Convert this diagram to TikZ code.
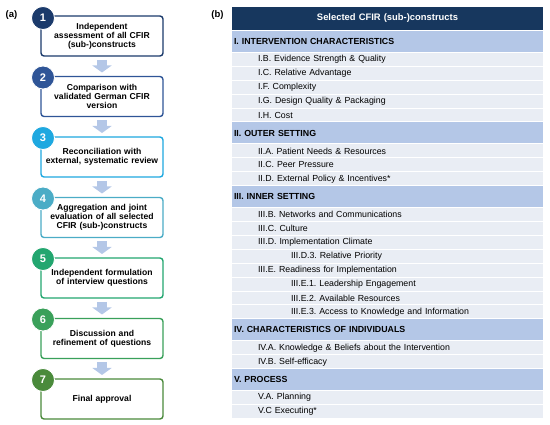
\documentclass[tikz,border=0pt]{standalone}
\usepackage{fontspec}
\setmainfont{Liberation Sans}
\usetikzlibrary{positioning,arrows.meta}

\definecolor{cone}{HTML}{1B3A6B}
\definecolor{ctwo}{HTML}{2F5597}
\definecolor{cthree}{HTML}{1EA8E0}
\definecolor{cfour}{HTML}{4BACC6}
\definecolor{cfive}{HTML}{22A66F}
\definecolor{csix}{HTML}{3AA05A}
\definecolor{cseven}{HTML}{4A8A3B}
\definecolor{arrowblue}{HTML}{B4C7E7}
\definecolor{hdrblue}{HTML}{17375E}
\definecolor{secblue}{HTML}{B4C7E7}
\definecolor{subgrey}{HTML}{E9EDF4}

\tikzset{
  flowbox/.style={draw=#1, line width=1.4pt, rounded corners=3pt, fill=white,
    text width=118pt, inner xsep=2pt, minimum height=40pt, align=center,
    font=\fontsize{8.6}{9.2}\selectfont\bfseries},
  numcirc/.style={circle, fill=#1, draw=white, line width=0.8pt, text=white,
    minimum size=23pt, inner sep=0pt, font=\fontsize{11}{12}\selectfont\bfseries},
  flowarrow/.style={draw=arrowblue, line width=10pt, -{Triangle[width=19pt,length=7pt]},
    shorten <=4pt, shorten >=4pt},
  panlabel/.style={font=\fontsize{9.5}{11}\selectfont\bfseries},
  hdrrow/.style={fill=hdrblue, text=white, text width=311pt, inner xsep=0pt, inner ysep=0pt,
    minimum height=23pt, align=center, font=\fontsize{9.4}{11}\selectfont\bfseries},
  secrow/.style={fill=secblue, text width=307pt, inner xsep=2pt, inner ysep=0pt,
    minimum height=21pt, align=left, font=\fontsize{8.8}{10}\selectfont\bfseries},
  subrow/.style={fill=subgrey, text width=259pt, inner xsep=26pt, inner ysep=0pt,
    minimum height=12.9pt, align=left, font=\fontsize{8.8}{10}\selectfont},
  subsubrow/.style={subrow, text width=193pt, inner xsep=59pt},
}

\begin{document}
\frenchspacing
\begin{tikzpicture}[x=1pt,y=-1pt,node distance=1pt,every node/.style={outer sep=0pt}]
\useasboundingbox (0,0) rectangle (550,425);

% (a) workflow
\node[panlabel] (la) at (11.5,15.5) {(a)};
\node[flowbox=cone] (b1) at (102,36) {Independent\\assessment of all CFIR\\(sub-)constructs};
\node[flowbox=ctwo, below=20.5pt of b1] (b2) {Comparison with\\validated German CFIR\\version};
\node[flowbox=cthree, below=20.5pt of b2] (b3) {Reconciliation with\\external, systematic review};
\node[flowbox=cfour, below=20.5pt of b3] (b4) {Aggregation and joint\\evaluation of all selected\\CFIR (sub-)constructs};
\node[flowbox=cfive, below=20.5pt of b4] (b5) {Independent formulation\\of interview questions};
\node[flowbox=csix, below=20.5pt of b5] (b6) {Discussion and\\refinement of questions};
\node[flowbox=cseven, below=20.5pt of b6] (b7) {Final approval};

\node[numcirc=cone] (n1) at ([xshift=2pt,yshift=-2pt]b1.north west) {1};
\node[numcirc=ctwo] (n2) at ([xshift=2pt,yshift=-1pt]b2.north west) {2};
\node[numcirc=cthree] (n3) at ([xshift=2pt,yshift=-1pt]b3.north west) {3};
\node[numcirc=cfour] (n4) at ([xshift=2pt,yshift=-1pt]b4.north west) {4};
\node[numcirc=cfive] (n5) at ([xshift=2pt,yshift=-1pt]b5.north west) {5};
\node[numcirc=csix] (n6) at ([xshift=2pt,yshift=-1pt]b6.north west) {6};
\node[numcirc=cseven] (n7) at ([xshift=2pt,yshift=-1pt]b7.north west) {7};

\draw[flowarrow] (b1) -- (b2);
\draw[flowarrow] (b2) -- (b3);
\draw[flowarrow] (b3) -- (b4);
\draw[flowarrow] (b4) -- (b5);
\draw[flowarrow] (b5) -- (b6);
\draw[flowarrow] (b6) -- (b7);

% (b) table of constructs
\node[panlabel] (lb) at (217.5,15.5) {(b)};
\node[hdrrow, anchor=north west] (hdr) at (232,7) {Selected CFIR (sub-)constructs};
\node[secrow, below=of hdr] (s1) {I. INTERVENTION CHARACTERISTICS};
\node[subrow, below=of s1] (r1b) {I.B. Evidence Strength \& Quality};
\node[subrow, below=of r1b] (r1c) {I.C. Relative Advantage};
\node[subrow, below=of r1c] (r1f) {I.F. Complexity};
\node[subrow, below=of r1f] (r1g) {I.G. Design Quality \& Packaging};
\node[subrow, below=of r1g] (r1h) {I.H. Cost};
\node[secrow, below=of r1h] (s2) {II. OUTER SETTING};
\node[subrow, below=of s2] (r2a) {II.A. Patient Needs \& Resources};
\node[subrow, below=of r2a] (r2c) {II.C. Peer Pressure};
\node[subrow, below=of r2c] (r2d) {II.D. External Policy \& Incentives*};
\node[secrow, below=of r2d] (s3) {III. INNER SETTING};
\node[subrow, below=of s3] (r3b) {III.B. Networks and Communications};
\node[subrow, below=of r3b] (r3c) {III.C. Culture};
\node[subrow, below=of r3c] (r3d) {III.D. Implementation Climate};
\node[subsubrow, below=of r3d] (r3d3) {III.D.3. Relative Priority};
\node[subrow, below=of r3d3] (r3e) {III.E. Readiness for Implementation};
\node[subsubrow, below=of r3e] (r3e1) {III.E.1. Leadership Engagement};
\node[subsubrow, below=of r3e1] (r3e2) {III.E.2. Available Resources};
\node[subsubrow, below=of r3e2] (r3e3) {III.E.3. Access to Knowledge and Information};
\node[secrow, below=of r3e3] (s4) {IV. CHARACTERISTICS OF INDIVIDUALS};
\node[subrow, below=of s4] (r4a) {IV.A. Knowledge \& Beliefs about the Intervention};
\node[subrow, below=of r4a] (r4b) {IV.B. Self-efficacy};
\node[secrow, below=of r4b] (s5) {V. PROCESS};
\node[subrow, below=of s5] (r5a) {V.A. Planning};
\node[subrow, below=of r5a] (r5c) {V.C Executing*};
\end{tikzpicture}
\end{document}
